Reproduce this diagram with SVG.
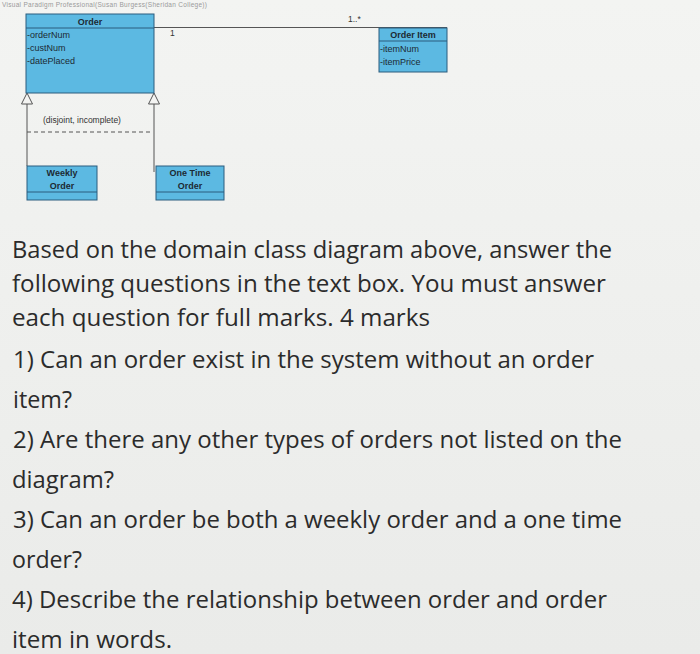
<svg xmlns="http://www.w3.org/2000/svg" width="700" height="654" viewBox="0 0 700 654">
<defs>
<linearGradient id="bgGrad" x1="0" y1="0" x2="0" y2="1">
  <stop offset="0" stop-color="#f3f4f2"/>
  <stop offset="1" stop-color="#eaebe9"/>
</linearGradient>
<style>
.box{fill:#5cb9e2;stroke:#2b5d7e;stroke-width:1}
.sep{stroke:#2b5d7e;stroke-width:1}
.title{font-family:"Liberation Sans",Arial,sans-serif;font-size:9px;font-weight:bold;fill:#1d2a33;text-anchor:middle}
.attr{font-family:"Liberation Sans",Arial,sans-serif;font-size:9px;fill:#1d2a33}
.lbl{font-family:"Liberation Sans",Arial,sans-serif;font-size:8.5px;fill:#333}
.line{stroke:#555;stroke-width:1;fill:none}
.tri{fill:#f4f4f2;stroke:#555;stroke-width:1}
.q{font-family:"Open Sans","Noto Sans","Liberation Sans",sans-serif;font-size:23.5px;fill:#2b2b2b}
.wm{font-family:"Liberation Sans",Arial,sans-serif;font-size:6.5px;fill:#9a9a9a}
</style>
</defs>
<rect x="0" y="0" width="700" height="654" fill="url(#bgGrad)"/>
<text class="wm" x="2" y="7" textLength="205">Visual Paradigm Professional(Susan Burgess(Sheridan College))</text>

<g id="connectors">
  <line class="line" x1="154" y1="27.5" x2="447" y2="27.5"/>
  <text class="lbl" x="170" y="36">1</text>
  <text class="lbl" x="348" y="22">1..*</text>
  <line class="line" x1="27" y1="104" x2="27" y2="166"/>
  <line class="line" x1="154" y1="104" x2="154" y2="172"/>
  <polygon class="tri" points="27,93 21.5,104 32.5,104"/>
  <polygon class="tri" points="154,93 148.5,104 159.5,104"/>
  <line class="line" x1="27" y1="132" x2="153" y2="132" stroke-dasharray="4,3"/>
  <text class="lbl" x="43" y="123">(disjoint, incomplete)</text>
</g>

<g id="order">
  <rect class="box" x="26" y="14" width="128" height="79"/>
  <line class="sep" x1="26" y1="28" x2="154" y2="28"/>
  <text class="title" x="90" y="24.5">Order</text>
  <text class="attr" x="27" y="38">-orderNum</text>
  <text class="attr" x="27" y="51">-custNum</text>
  <text class="attr" x="27" y="64">-datePlaced</text>
</g>

<g id="order-item">
  <rect class="box" x="379" y="28" width="68" height="44"/>
  <line class="sep" x1="379" y1="41" x2="447" y2="41"/>
  <text class="title" x="413" y="37.5">Order Item</text>
  <text class="attr" x="380" y="52">-itemNum</text>
  <text class="attr" x="380" y="64.5">-itemPrice</text>
</g>

<g id="weekly-order">
  <rect class="box" x="27" y="166" width="70" height="34"/>
  <line class="sep" x1="27" y1="192" x2="97" y2="192"/>
  <text class="title" x="62" y="175.5">Weekly</text>
  <text class="title" x="62" y="188.5">Order</text>
</g>

<g id="one-time-order">
  <rect class="box" x="156" y="166" width="68" height="34"/>
  <line class="sep" x1="156" y1="192" x2="224" y2="192"/>
  <text class="title" x="190" y="175.5">One Time</text>
  <text class="title" x="190" y="188.5">Order</text>
</g>

<g id="questions">
  <text class="q" x="12" y="258" textLength="600" lengthAdjust="spacingAndGlyphs">Based on the domain class diagram above, answer the</text>
  <text class="q" x="12" y="292" textLength="594" lengthAdjust="spacingAndGlyphs">following questions in the text box. You must answer</text>
  <text class="q" x="12" y="326" textLength="418" lengthAdjust="spacingAndGlyphs">each question for full marks. 4 marks</text>
  <text class="q" x="13" y="368" textLength="581" lengthAdjust="spacingAndGlyphs">1) Can an order exist in the system without an order</text>
  <text class="q" x="13" y="408" textLength="59" lengthAdjust="spacingAndGlyphs">item?</text>
  <text class="q" x="13" y="448" textLength="609" lengthAdjust="spacingAndGlyphs">2) Are there any other types of orders not listed on the</text>
  <text class="q" x="12" y="488" textLength="102" lengthAdjust="spacingAndGlyphs">diagram?</text>
  <text class="q" x="13" y="528" textLength="609" lengthAdjust="spacingAndGlyphs">3) Can an order be both a weekly order and a one time</text>
  <text class="q" x="12" y="568" textLength="70" lengthAdjust="spacingAndGlyphs">order?</text>
  <text class="q" x="12" y="608" textLength="595" lengthAdjust="spacingAndGlyphs">4) Describe the relationship between order and order</text>
  <text class="q" x="12" y="648" textLength="160" lengthAdjust="spacingAndGlyphs">item in words.</text>
</g>
</svg>
